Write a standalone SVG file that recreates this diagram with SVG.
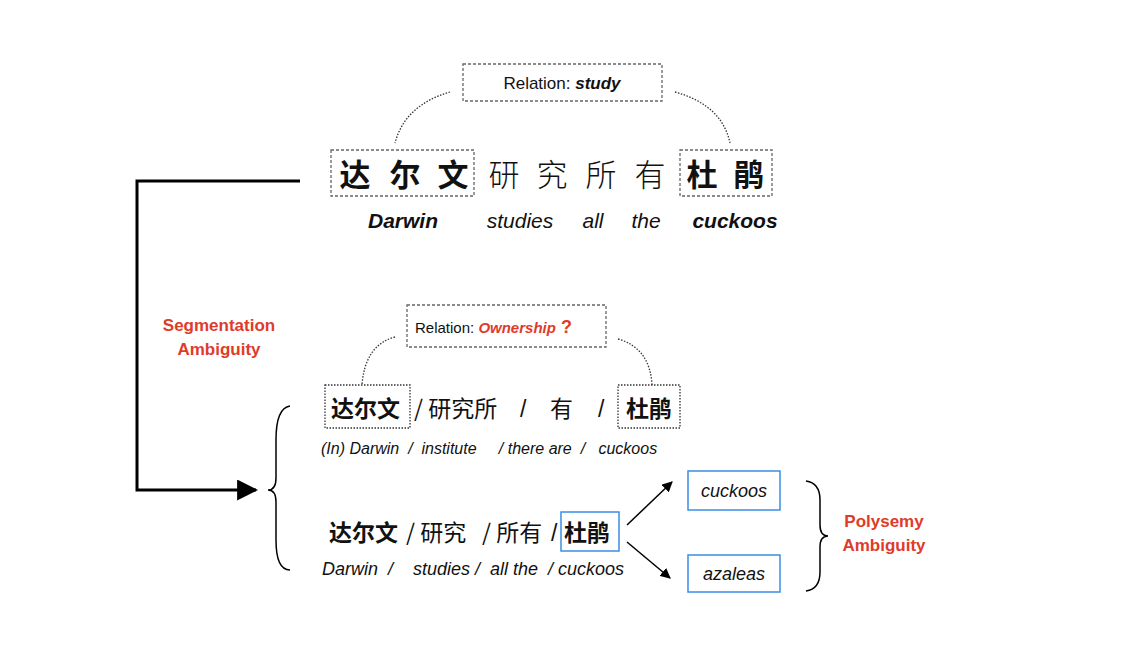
<svg xmlns="http://www.w3.org/2000/svg" width="1124" height="648" viewBox="0 0 1124 648">
<style>
text{font-family:"Liberation Sans","Noto Sans CJK SC",sans-serif;fill:#111}
.cn{font-family:"Noto Sans CJK SC",sans-serif}
.dash{fill:none;stroke:#666;stroke-width:1.3;stroke-dasharray:3 2}
.dot{fill:none;stroke:#333;stroke-width:1.3;stroke-dasharray:1.5 1.5}
.blue{fill:none;stroke:#3a8ee6;stroke-width:1.5}
.red{fill:#e03b2a;font-weight:bold}
.it{font-style:italic}
</style>
<defs><marker id="ah" viewBox="0 0 10 10" refX="9" refY="5" markerWidth="7" markerHeight="7" orient="auto"><path d="M0,0L10,5L0,10z" fill="#000"/></marker></defs>
<rect width="1124" height="648" fill="#fff"/>
<g id="top-relation"><rect class="dash" x="463" y="64" width="199" height="37"/><text x="562" y="89" font-size="17" text-anchor="middle">Relation: <tspan font-weight="bold" font-style="italic">study</tspan></text></g>
<g id="top-sentence">
<rect class="dash" x="331" y="150" width="143" height="46"/><rect class="dash" x="680" y="150" width="92" height="46"/>
<g class="cn" font-size="31" text-anchor="middle"><text x="355" y="186" class="cn" font-weight="bold">达</text><text x="405" y="186" class="cn" font-weight="bold">尔</text><text x="453" y="186" class="cn" font-weight="bold">文</text><text x="504" y="186" class="cn" font-weight="300">研</text><text x="552" y="186" class="cn" font-weight="300">究</text><text x="601" y="186" class="cn" font-weight="300">所</text><text x="650" y="186" class="cn" font-weight="300">有</text><text x="702" y="186" class="cn" font-weight="bold">杜</text><text x="749" y="186" class="cn" font-weight="bold">鹃</text></g>
<g font-size="21" class="it" text-anchor="middle"><text x="403" y="228" class="it" font-weight="bold">Darwin</text><text x="520" y="228" class="it">studies</text><text x="593" y="228" class="it">all</text><text x="646" y="228" class="it">the</text><text x="735" y="228" class="it" font-weight="bold">cuckoos</text></g>
</g>
<g id="seg-label"><text class="red" x="219" y="331" font-size="17" text-anchor="middle">Segmentation</text><text class="red" x="219" y="355" font-size="17" text-anchor="middle">Ambiguity</text></g>
<g id="mid-relation"><rect class="dash" x="407" y="305" width="199" height="42"/><text x="415" y="333" font-size="15">Relation: <tspan class="it" fill="#e03b2a" font-weight="bold" style="fill:#e03b2a">Ownership</tspan><tspan style="fill:#e03b2a" font-weight="bold" font-size="18"> ?</tspan></text></g>
<g id="mid-sentence">
<rect class="dot" x="325" y="385" width="85" height="43"/><rect class="dot" x="618" y="385" width="62" height="43"/>
<text x="331" y="417" font-size="23" font-weight="bold" class="cn">达尔文</text>
<text x="414" y="417" font-size="23" class="cn">/ 研究所</text>
<text x="520" y="417" font-size="23">/</text><text x="550" y="417" font-size="23" class="cn">有</text><text x="598" y="417" font-size="23">/</text>
<text x="626" y="417" font-size="23" font-weight="bold" class="cn">杜鹃</text>
<text x="321" y="454" font-size="16" class="it" xml:space="preserve">(In) Darwin  /  institute     / there are  /   cuckoos</text>
</g>
<g id="bot-sentence">
<rect class="blue" x="561" y="512" width="58" height="39"/>
<text x="329" y="541" font-size="23" font-weight="bold" class="cn">达尔文</text>
<text x="406" y="541" font-size="23" class="cn">/ 研究</text>
<text x="482" y="541" font-size="23" class="cn">/ 所有</text>
<text x="551" y="541" font-size="23">/</text>
<text x="564" y="541" font-size="23" font-weight="bold" class="cn">杜鹃</text>
<text x="322" y="575" font-size="18" class="it" xml:space="preserve">Darwin  /    studies /  all the  / cuckoos</text>
</g>
<g id="sense-cuckoos"><rect class="blue" x="688" y="471" width="92" height="39"/><text x="734" y="497" font-size="18" class="it" text-anchor="middle">cuckoos</text></g>
<g id="sense-azaleas"><rect class="blue" x="688" y="555" width="92" height="37"/><text x="734" y="580" font-size="18" class="it" text-anchor="middle">azaleas</text></g>
<g id="poly-label"><text class="red" x="884" y="527" font-size="17" text-anchor="middle">Polysemy</text><text class="red" x="884" y="551" font-size="17" text-anchor="middle">Ambiguity</text></g>
<g id="connectors" fill="none" stroke="#000">
<path class="dot" d="M450,92 Q405,105 395,143"/><path class="dot" d="M675,92 Q722,105 730,143"/>
<path class="dot" d="M395,337 Q365,345 362,385"/><path class="dot" d="M618,339 Q650,348 652,385"/>
<path d="M300,181H137V490H256" stroke-width="3" marker-end="url(#ah)"/>
<path d="M290,406 Q276,408 276,440 V478 Q276,490 268,490 Q276,490 276,502 V540 Q276,570 290,570" stroke-width="1.5"/>
<path d="M806,481 Q820,483 820,500 V525 Q820,536 828,536 Q820,536 820,547 V572 Q820,589 806,591" stroke-width="1.5"/>
<path d="M627,525 L672,482" stroke-width="1.5" marker-end="url(#ah)"/>
<path d="M627,542 L670,578" stroke-width="1.5" marker-end="url(#ah)"/>
</g>
</svg>
